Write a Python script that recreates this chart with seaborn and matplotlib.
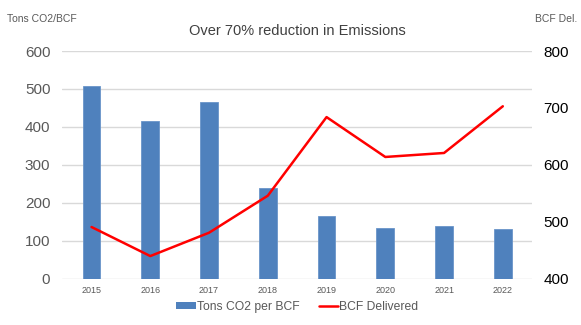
import matplotlib
matplotlib.use("Agg")
import matplotlib.pyplot as plt
import seaborn as sns
import pandas as pd
import numpy as np
from matplotlib.patches import Patch
from matplotlib.lines import Line2D

years = ["2015", "2016", "2017", "2018", "2019", "2020", "2021", "2022"]
tons_co2_per_bcf = [508, 416, 466, 240, 166, 134, 140, 130]
bcf_delivered = [491, 440, 481, 546, 684, 614, 621, 703]

sns.set_theme(style="white")
plt.rcParams['font.family'] = ['Liberation Sans', 'DejaVu Sans']

df = pd.DataFrame({"year": years, "tons": tons_co2_per_bcf, "bcf": bcf_delivered})
df["pos"] = np.arange(len(years))

fig = plt.figure(figsize=(5.81, 3.25), dpi=100)
ax = fig.add_axes([0.107, 0.142, 0.809, 0.701])

sns.barplot(data=df, x="year", y="tons", color="#4F81BD", saturation=1, width=0.3,
            edgecolor="#6A95C9", linewidth=0.6, ax=ax, zorder=2)
ax.set_ylim(0, 600)
ax.set_yticks([0, 100, 200, 300, 400, 500, 600])
ax.set_xlim(-0.5, 7.5)
ax.grid(axis="y", color="#D9D9D9", linewidth=1, zorder=0)
ax.set_axisbelow(True)
for s in ax.spines.values():
    s.set_visible(False)
ax.tick_params(axis="y", labelsize=11, colors="#595959", length=0, pad=8.5)
ax.tick_params(axis="x", labelsize=6.5, colors="#595959", length=0, pad=5)
ax.set_xlabel("")
ax.set_ylabel("")

ax2 = ax.twinx()
sns.lineplot(data=df, x="pos", y="bcf", color="#FF0000", linewidth=1.8, ax=ax2, zorder=3)
ax2.set_ylim(400, 800)
ax2.set_yticks([400, 500, 600, 700, 800])
ax2.set_xlim(-0.5, 7.5)
for s in ax2.spines.values():
    s.set_visible(False)
ax2.tick_params(axis="y", labelsize=11, colors="#000000", length=0, pad=8)
ax2.set_ylabel("")
ax2.set_xlabel("")

fig.text(0.012, 0.94, "Tons CO2/BCF", fontsize=7.5, color="#595959", ha="left", va="center")
fig.text(0.993, 0.94, "BCF Del.", fontsize=7.5, color="#595959", ha="right", va="center")
fig.text(0.512, 0.905, "Over 70% reduction in Emissions", fontsize=10.5, color="#404040", ha="center", va="center")

handles = [Patch(facecolor="#4F81BD", edgecolor="none"),
           Line2D([0], [0], color="#FF0000", linewidth=1.8)]
fig.legend(handles, ["Tons CO2 per BCF", "BCF Delivered"], loc="center", bbox_to_anchor=(0.512, 0.055),
           ncol=2, frameon=False, fontsize=8.7, labelcolor="#595959", handlelength=1.6,
           handletextpad=0.1, columnspacing=1.6, handleheight=0.5)

fig.savefig("out.png", dpi=100)
